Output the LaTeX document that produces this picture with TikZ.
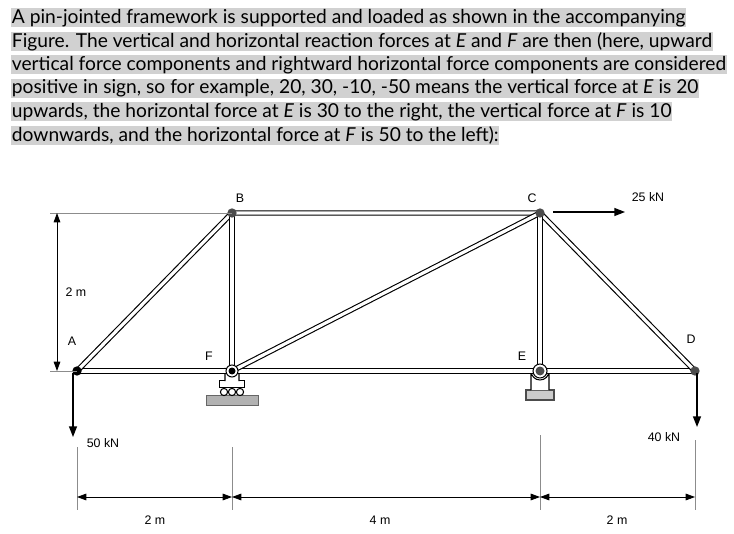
\documentclass[tikz,border=0pt]{standalone}
\usepackage{fontspec}
\setmainfont{Lato}
\newfontfamily\lab{Liberation Sans}
\usetikzlibrary{arrows.meta}
\begin{document}
\begin{tikzpicture}[x=0.75pt,y=-0.75pt,
  member/.style={line width=0.85pt,draw=black,double=white,double distance=2.4pt},
  txt/.style={anchor=north west,inner sep=0.5pt,fill=black!18,font=\fontsize{14.4}{16}\selectfont},
  lbl/.style={font=\lab\fontsize{9.3}{11}\selectfont,inner sep=0},
  dim/.style={line width=0.6pt,{Triangle[length=7pt,width=5pt]}-{Triangle[length=7pt,width=5pt]}},
  ext/.style={line width=0.5pt,black!45},
  force/.style={line width=1pt,-{Triangle[length=8pt,width=6pt]}},
  joint/.style={circle,fill=black!70,minimum size=7pt,inner sep=0}]
\useasboundingbox (0,0) rectangle (734,534);
\node[txt] (t1) at (11,8) {A pin-jointed framework is supported and loaded as shown in the accompanying};
\node[txt] (t2) at (11,31.5) {Figure. The vertical and horizontal reaction forces at \textit{E} and \textit{F} are then (here, upward};
\node[txt] (t3) at (11,55) {vertical force components and rightward horizontal force components are considered};
\node[txt] (t4) at (11,78.5) {positive in sign, so for example, 20, 30, -10, -50 means the vertical force at \textit{E} is 20};
\node[txt] (t5) at (11,102) {upwards, the horizontal force at \textit{E} is 30 to the right, the vertical force at \textit{F} is 10};
\node[txt] (t6) at (11,125.5) {downwards, and the horizontal force at \textit{F} is 50 to the left):};
% joints
\coordinate (A) at (77,371); \coordinate (F) at (232,371);
\coordinate (E) at (540,371); \coordinate (D) at (695,371);
\coordinate (B) at (232,213); \coordinate (C) at (540,213);
% supports
\node[fill=black!30,draw=black!60,minimum width=39pt,minimum height=7.5pt,inner sep=0] (gF) at (232,400) {};
\foreach \dx in {-8,0,8}{\draw[line width=0.8pt,fill=white] (232+\dx,392) circle (3.6);}
\node[draw,line width=0.8pt,fill=white,minimum width=19pt,minimum height=5pt,inner sep=0] (pF) at (232,384) {};
\draw[line width=0.8pt,fill=white] (225,381) -- (225,368) arc (180:0:7) -- (239,381);
\node[fill=black!20,draw=black!70,line width=0.8pt,minimum width=21pt,minimum height=7.5pt,inner sep=0] (gE) at (540,395) {};
\draw[line width=0.8pt,fill=white] (531,390) -- (531,371) arc (180:0:9) -- (549,390);
% members
\draw[member] (A) -- (D);
\draw[member] (A) -- (B) -- (C) -- (D);
\draw[member] (B) -- (F);
\draw[member] (C) -- (E);
\draw[member] (F) -- (C);
% pins
\draw[line width=0.8pt,fill=white] (F) circle (6);
\fill (F) circle (3.5);
\draw[line width=0.8pt,fill=white] (E) circle (7);
\fill[black!70] (E) circle (4.5);
\node[joint,fill=black] (jA) at (A) {};
\node[joint] (jB) at (B) {};
\node[joint] (jC) at (C) {};
\node[joint] (jD) at (D) {};
% labels
\node[lbl] (lA) at (72,341) {A};
\node[lbl] (lB) at (240,198) {B};
\node[lbl] (lC) at (532,198) {C};
\node[lbl] (lD) at (691,339) {D};
\node[lbl] (lF) at (209,356) {F};
\node[lbl] (lE) at (522,356) {E};
% vertical dimension
\coordinate (v1) at (57,213); \coordinate (v2) at (57,371);
\draw[ext] (50,213) -- (B);
\draw[ext] (50,371) -- (A);
\draw[dim] (v1) -- (v2);
\node[lbl,fill=white,inner sep=2pt] (d2m) at (76,292) {2 m};
% horizontal dimensions
\coordinate (h1) at (77,497); \coordinate (h2) at (232,497);
\coordinate (h3) at (540,497); \coordinate (h4) at (695,497);
\draw[ext] (77,447) -- (77,510);
\draw[ext] (232,447) -- (232,510);
\draw[ext] (540,435) -- (540,510);
\draw[ext] (695,440) -- (695,510);
\draw[dim] (h1) -- (h2);
\draw[dim] (h2) -- (h3);
\draw[dim] (h3) -- (h4);
\node[lbl] (m1) at (155,520) {2 m};
\node[lbl] (m2) at (380,520) {4 m};
\node[lbl] (m3) at (617,520) {2 m};
% forces
\coordinate (fA) at (73,437); \coordinate (fC1) at (553,212);
\coordinate (fC2) at (625,212); \coordinate (fD) at (697,427);
\draw[force] (73,373) -- (fA);
\draw[force] (fC1) -- (fC2);
\draw[force] (697,373) -- (fD);
\node[lbl] (f50) at (103,443) {50 kN};
\node[lbl] (f25) at (648,197) {25 kN};
\node[lbl] (f40) at (664,437) {40 kN};
\end{tikzpicture}
\end{document}
